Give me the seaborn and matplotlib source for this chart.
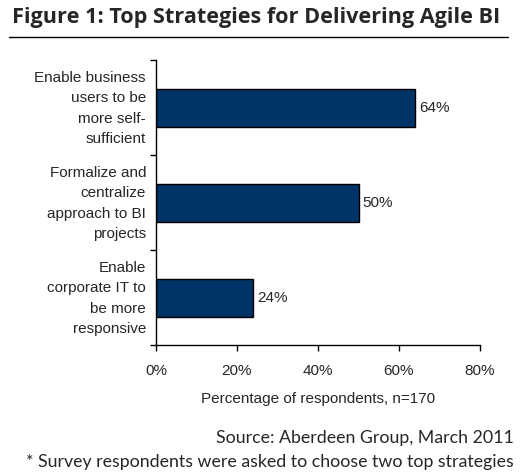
import pandas as pd
import seaborn as sns
import matplotlib.pyplot as plt
from matplotlib.lines import Line2D
from matplotlib.ticker import PercentFormatter, FixedLocator

strategies = [
    "Enable business\nusers to be\nmore self-\nsufficient",
    "Formalize and\ncentralize\napproach to BI\nprojects",
    "Enable\ncorporate IT to\nbe more\nresponsive",
]
pct = [64, 50, 24]
x_ticks = [0, 20, 40, 60, 80]

df = pd.DataFrame({"strategy": strategies, "pct": pct})

sns.set_style("white")
plt.rcParams["font.family"] = ["Liberation Sans", "DejaVu Sans"]

fig = plt.figure(figsize=(5.22, 4.77), dpi=100)
ax = fig.add_axes([156 / 522, 1 - 346 / 477, 324 / 522, 285 / 477])

sns.barplot(data=df, x="pct", y="strategy", color="#003366",
            edgecolor="black", linewidth=1, width=0.4, saturation=1, ax=ax)

# value labels at bar ends
for i, v in enumerate(pct):
    ax.text(v + 1.0, i, f"{v}%", va="center", ha="left", fontsize=11)

ax.set_xlim(0, 80)
ax.set_ylim(2.5, -0.5)
ax.set_xticks(x_ticks)
ax.xaxis.set_major_formatter(PercentFormatter(decimals=0))
ax.yaxis.set_major_locator(FixedLocator([-0.5, 0.5, 1.5, 2.5]))
ax.set_yticklabels([])
ax.tick_params(axis="both", which="major", length=4, width=1, color="black",
               direction="out", labelsize=11, pad=9)
ax.tick_params(axis="x", bottom=True)
ax.tick_params(axis="y", left=True)
for s in ["top", "right"]:
    ax.spines[s].set_visible(False)
for s in ["left", "bottom"]:
    ax.spines[s].set_color("black")
    ax.spines[s].set_linewidth(1)

# category labels, right aligned left of the axis
for i, lab in enumerate(strategies):
    ax.text(-10 / 324, i, lab, transform=ax.get_yaxis_transform(),
            ha="right", va="center", multialignment="right", fontsize=11,
            linespacing=1.58)

ax.set_xlabel("Percentage of respondents, n=170", fontsize=11, labelpad=10)
ax.set_ylabel("")

fig.text(12 / 522, 1 - 18 / 477, "Figure 1: Top Strategies for Delivering Agile BI",
         fontsize=15.6, fontweight="bold", family=["Open Sans", "DejaVu Sans"],
         ha="left", va="center")
fig.add_artist(Line2D([9 / 522, 508 / 522], [1 - 38 / 477, 1 - 38 / 477],
                      color="black", linewidth=1, transform=fig.transFigure))
fig.text(514 / 522, 1 - 438 / 477, "Source: Aberdeen Group, March 2011",
         fontsize=12.8, family=["Lato", "DejaVu Sans"], ha="right", va="center")
fig.text(514 / 522, 1 - 462 / 477,
         "* Survey respondents were asked to choose two top strategies",
         fontsize=12.8, family=["Lato", "DejaVu Sans"], ha="right", va="center")

fig.savefig("out.png", dpi=100)
